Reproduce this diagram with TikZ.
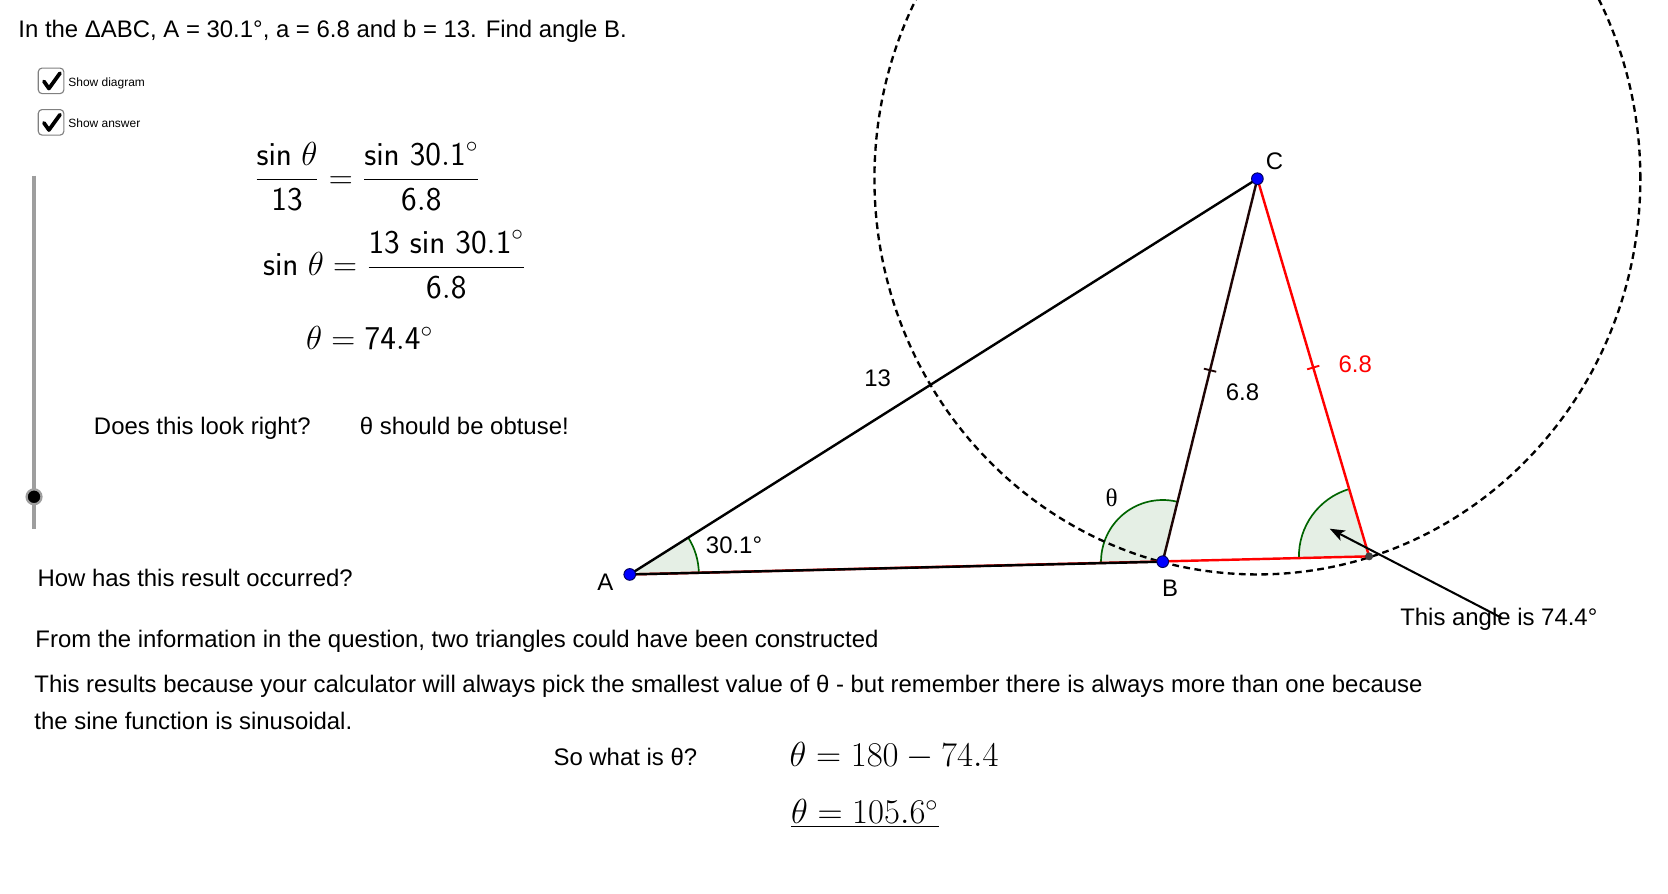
\RequirePackage{fix-cm}
\documentclass[tikz,border=0pt]{standalone}
\usepackage[no-math]{fontspec}
\newfontfamily\arialfont{Liberation Sans}
\newfontfamily\timesfont{Liberation Serif}
\usetikzlibrary{angles,arrows.meta,calc}
\definecolor{angstroke}{RGB}{0,100,0}
\definecolor{angfill}{RGB}{229,239,229}
\definecolor{ptblue}{RGB}{0,0,255}
\definecolor{ptedge}{RGB}{0,0,90}
\definecolor{darkline}{RGB}{30,5,5}
\definecolor{slidergray}{RGB}{158,158,158}
\definecolor{boxgray}{RGB}{128,128,128}
\definecolor{pureRed}{RGB}{255,0,0}
\begin{document}
\begin{tikzpicture}[x=0.02cm,y=0.02cm,
  txt/.style={font=\arialfont\fontsize{12.8}{15}\selectfont, inner sep=0pt, anchor=base west},
  small/.style={font=\arialfont\fontsize{6.4}{8}\selectfont, inner sep=0pt, anchor=base west},
  lbl/.style={font=\arialfont\fontsize{12.8}{15}\selectfont, inner sep=0pt},
  smath/.style={font=\fontsize{17.8}{21}\selectfont, inner sep=0pt},
  rmath/.style={font=\fontsize{18.6}{22}\selectfont, inner sep=0pt},
  edgeline/.style={line width=1.3pt, line cap=round, line join=round},
  angmark/.style={draw=angstroke, fill=angfill, line width=0.9pt},
  tickmark/.style={line width=1pt},
  vertex/.style={circle, fill=ptblue, draw=ptedge, line width=0.5pt, inner sep=0pt, minimum size=0.22cm},
  chkbox/.style={draw=boxgray, rounded corners=2pt, line width=0.6pt, minimum size=0.48cm, inner sep=0pt, fill=white},
  chkmark/.style={line width=2pt, line cap=round, line join=round}
]
\useasboundingbox (0,0) rectangle (1568,840);
\clip (0,0) rectangle (1568,840);

% ---- text column ----
\node[txt] (title) at (17,805) {In the ΔABC, A = 30.1°, a = 6.8 and b = 13. Find angle B.};

\node[chkbox] (cb1) at (48,764) {};
\draw[chkmark] ([shift={(-6.7,-0.5)}]cb1.center) -- ([shift={(-2,-7.2)}]cb1.center) -- ([shift={(8.4,7.2)}]cb1.center);
\node[small] (cbl1) at (64,759) {Show diagram};
\node[chkbox] (cb2) at (48,725) {};
\draw[chkmark] ([shift={(-6.7,-0.5)}]cb2.center) -- ([shift={(-2,-7.2)}]cb2.center) -- ([shift={(8.4,7.2)}]cb2.center);
\node[small] (cbl2) at (64,720) {Show answer};

% slider
\coordinate (s1) at (32,675);
\coordinate (s2) at (32,343);
\draw[line width=2.2pt, slidergray] (s1) -- (s2);
\node[circle, fill=black, draw=slidergray, line width=1.2pt, minimum size=0.28cm, inner sep=0pt] (knob) at (32,373) {};

% equations (sans)
\node[smath] (eq1) at (345.5,674) {$\displaystyle\frac{\mathsf{sin}\;\theta}{\mathsf{13}}=\frac{\mathsf{sin\ 30.1}^{\circ}}{\mathsf{6.8}}$};
\node[smath] (eq2) at (371,591.5) {$\displaystyle\mathsf{sin}\;\theta=\frac{\mathsf{13\ sin\ 30.1}^{\circ}}{\mathsf{6.8}}$};
\node[smath] (eq3) at (347.5,522) {$\theta=\mathsf{74.4}^{\circ}$};

\node[txt] (q1) at (88,432) {Does this look right?};
\node[txt] (q2) at (338,432) {θ should be obtuse!};
\node[txt] (q3) at (35,289) {How has this result occurred?};
\node[txt] (p1) at (33,231) {From the information in the question, two triangles could have been constructed};
\node[txt] (p2) at (32,189) {This results because your calculator will always pick the smallest value of θ - but remember there is always more than one because};
\node[txt] (p3) at (32,154) {the sine function is sinusoidal.};
\node[txt] (q4) at (520,120) {So what is θ?};
\node[rmath] (eq4) at (840.5,129) {$\theta=180-74.4$};
\node[rmath] (eq5) at (813,75) {$\underline{\theta=105.6^{\circ}}$};

% ---- geometry ----
\coordinate (A) at (592,300);
\coordinate (B) at (1093,312);
\coordinate (C) at (1182,672);
\coordinate (D) at (1287,317);

\pic[angmark, angle radius=1.3cm] {angle=B--A--C};
\pic[angmark, angle radius=1.16cm] {angle=C--B--A};
\pic[angmark, angle radius=1.32cm] {angle=C--D--B};

\draw[black, line width=1.25pt, dash pattern=on 3.6pt off 2.4pt] (C) ellipse [x radius=360, y radius=372];

\draw[edgeline, pureRed] (A) -- (D) -- (C);
\draw[edgeline, black] (A) -- (B);
\draw[edgeline, black] (A) -- (C);
\draw[edgeline, darkline] (B) -- (C);

\coordinate (M1) at ($(B)!0.5!(C)$);
\coordinate (M2) at ($(D)!0.5!(C)$);
\draw[tickmark, darkline] ($(M1)!3.4pt!90:(C)$) -- ($(M1)!3.4pt!-90:(C)$);
\draw[tickmark, pureRed] ($(M2)!3.4pt!90:(C)$) -- ($(M2)!3.4pt!-90:(C)$);

\node[vertex] (Ad) at (A) {};
\node[vertex] (Bd) at (B) {};
\node[vertex] (Cd) at (C) {};
\node[circle, fill=black!75, inner sep=0pt, minimum size=0.15cm] (Dd) at (D) {};

\node[lbl] (lA) at (569,292.5) {A};
\node[lbl] (lB) at (1100,287) {B};
\node[lbl] (lC) at (1198,688) {C};
\node[lbl] (l13) at (825,484) {13};
\node[lbl] (l68) at (1168,471) {6.8};
\node[lbl, text=pureRed] (l68r) at (1274,498) {6.8};
\node[lbl] (l301) at (690,327) {30.1°};
\node[font=\timesfont\fontsize{13.5}{15}\selectfont, inner sep=0pt] (lth) at (1045,372) {θ};

\node[txt] (note) at (1316,252) {This angle is 74.4°};
\coordinate (T) at (1412,259);
\coordinate (H) at (1250,343);
\draw[line width=1.1pt, -{Stealth[length=8pt, width=6pt, inset=2pt]}] (T) -- (H);
\end{tikzpicture}
\end{document}
